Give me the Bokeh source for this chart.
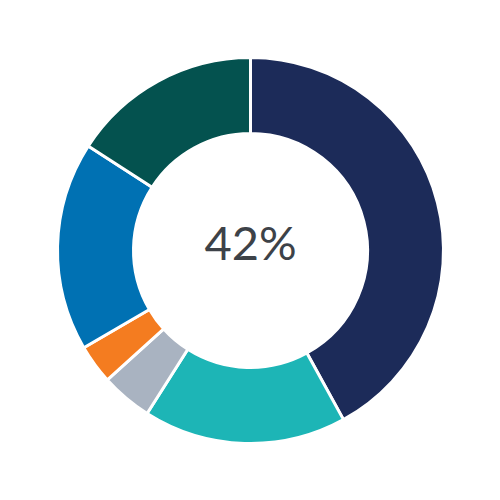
from bokeh.plotting import figure
from bokeh.models import ColumnDataSource, Range1d
from bokeh.core.properties import value
from bokeh.embed import file_html
from bokeh.resources import INLINE
import math

categories = ["Navy", "Teal", "Gray", "Orange", "Blue", "Dark green"]
shares = [42.0, 17.0, 4.3, 3.3, 17.5, 15.9]
colors = ["#1c2b59", "#1db5b6", "#a9b3c1", "#f47c20", "#0071b3", "#04524f"]
center_label = "42%"

total = sum(shares)
starts, ends = [], []
cum = 0.0
for s in shares:
    starts.append(math.pi / 2 - 2 * math.pi * cum / total)
    cum += s
    ends.append(math.pi / 2 - 2 * math.pi * cum / total)

src = ColumnDataSource(dict(cat=categories, val=shares, color=colors,
                            start=starts, end=ends))

W = 484
p = figure(width=W, height=W, output_backend="svg", toolbar_location=None,
           x_range=Range1d(-250, 234), y_range=Range1d(-234, 250),
           min_border=0)
p.axis.visible = False
p.grid.visible = False
p.outline_line_color = None
p.background_fill_color = "white"
p.border_fill_color = "white"

p.annular_wedge(x=0, y=0, inner_radius=117, outer_radius=193,
                start_angle="start", end_angle="end", direction="clock",
                fill_color="color", line_color="white", line_width=3,
                source=src)

p.text(x=[0], y=[9], text=[center_label], text_align="center",
       text_baseline="middle", text_font=value("Lato"),
       text_font_size="47px", text_color="#3d4248")

open("out.html", "w").write(file_html(p, INLINE))
